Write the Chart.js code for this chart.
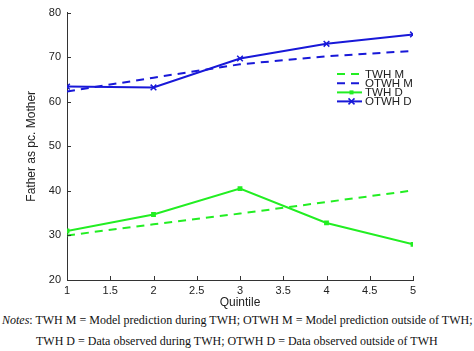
<!DOCTYPE html>
<html><head><meta charset="utf-8">
<script src="https://cdn.jsdelivr.net/npm/chart.js@4/dist/chart.umd.min.js"></script>
<style>
html,body{margin:0;padding:0;background:#fff;}
#wrap{position:relative;width:474px;height:310px;}
#notes{font-family:"Liberation Serif","Times New Roman",serif;font-size:12px;color:#111;line-height:21px;white-space:nowrap;}
#n1{margin-left:2px;margin-top:0px;}
#n2{margin-left:36px;}
</style></head>
<body>
<div id="wrap"><canvas id="c" width="474" height="310"></canvas></div>
<div id="notes"><div id="n1"><i>Notes</i>: TWH M = Model prediction during TWH; OTWH M = Model prediction outside of TWH;</div>
<div id="n2">TWH D = Data observed during TWH; OTWH D = Data observed outside of TWH</div></div>
<script>
const quintiles = [1, 2, 3, 4, 5];
const twhM = [30.0, 32.5, 34.9, 37.5, 40.1];
const otwhM = [62.3, 65.4, 68.4, 70.2, 71.4];
const twhD = [31.0, 34.7, 40.5, 32.8, 28.0];
const otwhD = [63.4, 63.2, 69.7, 73.0, 75.1];
const seriesNames = ["TWH M", "OTWH M", "TWH D", "OTWH D"];
const yTicks = [20, 30, 40, 50, 60, 70, 80];
const xTicks = [1, 1.5, 2, 2.5, 3, 3.5, 4, 4.5, 5];

const GREEN = '#22ee22', BLUE = '#1818d8';
const FONT = '"Liberation Sans", Arial, sans-serif';
const pts = a => quintiles.map((q, i) => ({x: q, y: a[i]}));

const inwardTicks = {
  id: 'inwardTicks',
  afterDraw(chart) {
    const {ctx, chartArea: ca, scales: {x, y}} = chart;
    ctx.save();
    ctx.strokeStyle = '#333'; ctx.lineWidth = 1;
    ctx.beginPath();
    for (const t of x.ticks) { const px = Math.round(x.getPixelForValue(t.value)) + 0.5; ctx.moveTo(px, ca.bottom); ctx.lineTo(px, ca.bottom - 4); }
    for (const t of y.ticks) { const py = Math.round(y.getPixelForValue(t.value)) + 0.5; ctx.moveTo(ca.left, py); ctx.lineTo(ca.left + 4, py); }
    ctx.stroke();
    // legend
    ctx.font = '11.5px ' + FONT;
    ctx.textBaseline = 'middle'; ctx.fillStyle = '#222';
    const ds = chart.data.datasets;
    const x0 = 337, x1 = 362, rows = [74, 83.3, 92.4, 101.4];
    ds.forEach((d, i) => {
      const yy = rows[i];
      ctx.strokeStyle = d.borderColor; ctx.lineWidth = 2;
      ctx.setLineDash(d.borderDash || []);
      ctx.beginPath(); ctx.moveTo(x0, yy); ctx.lineTo(x1, yy); ctx.stroke();
      ctx.setLineDash([]);
      if (d.pointRadius > 0) {
        const mx = (x0 + x1) / 2 + 2;
        if (d.pointStyle === 'crossRot') {
          ctx.beginPath(); ctx.lineWidth = 1.5;
          ctx.moveTo(mx - 3, yy - 3); ctx.lineTo(mx + 3, yy + 3);
          ctx.moveTo(mx - 3, yy + 3); ctx.lineTo(mx + 3, yy - 3); ctx.stroke();
        } else {
          ctx.fillStyle = d.borderColor; ctx.fillRect(mx - 2, yy - 2, 4, 4); ctx.fillStyle = '#222';
        }
      }
      ctx.fillText(d.label, x1 + 3, yy + 0.5);
    });
    ctx.restore();
  }
};

new Chart(document.getElementById('c'), {
  type: 'line',
  data: {
    datasets: [
      {label: seriesNames[0], data: pts(twhM), borderColor: GREEN, borderDash: [8, 6], borderWidth: 2, pointRadius: 0},
      {label: seriesNames[1], data: pts(otwhM), borderColor: BLUE, borderDash: [8, 6], borderWidth: 2, pointRadius: 0},
      {label: seriesNames[2], data: pts(twhD), borderColor: GREEN, backgroundColor: GREEN, borderWidth: 2, pointStyle: 'rect', pointRadius: 2},
      {label: seriesNames[3], data: pts(otwhD), borderColor: BLUE, backgroundColor: BLUE, borderWidth: 2, pointStyle: 'crossRot', pointRadius: 4, pointBorderWidth: 1.5}
    ]
  },
  options: {
    responsive: false, animation: false,
    layout: {padding: {top: 6, right: 61, left: 24, bottom: 0}},
    plugins: {legend: {display: false}, tooltip: {enabled: false}},
    scales: {
      x: {
        type: 'linear', min: 1, max: 5,
        afterBuildTicks(s) { s.ticks = xTicks.map(v => ({value: v})); },
        ticks: {color: '#222', font: {size: 11, family: FONT}, padding: 4, callback: v => String(v)},
        grid: {drawOnChartArea: false, drawTicks: false, color: '#333'},
        border: {color: '#333', width: 1},
        title: {display: true, text: 'Quintile', color: '#222', font: {size: 12, family: FONT}, padding: {top: 8, bottom: 0}},
        afterFit(s) { s.height = 30; }
      },
      y: {
        min: 20, max: 80,
        afterBuildTicks(s) { s.ticks = yTicks.map(v => ({value: v})); },
        ticks: {color: '#222', font: {size: 11, family: FONT}, padding: 6, callback: v => String(v)},
        grid: {drawOnChartArea: false, drawTicks: false, color: '#333'},
        border: {color: '#333', width: 1},
        title: {display: true, text: 'Father as pc. Mother', color: '#222', font: {size: 12, family: FONT}, padding: {top: 0, bottom: 0}},
        afterFit(s) { s.width = 43; }
      }
    }
  },
  plugins: [inwardTicks]
});
</script>
</body></html>
